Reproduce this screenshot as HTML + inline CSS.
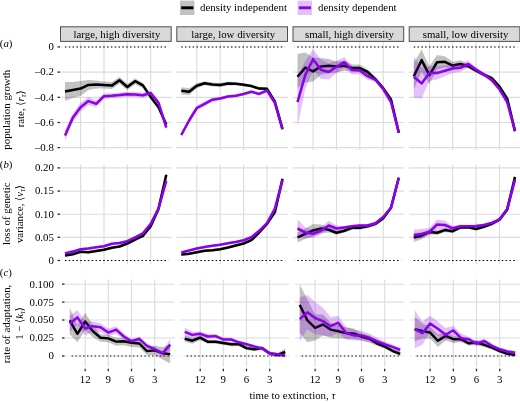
<!DOCTYPE html>
<html><head><meta charset="utf-8"><title>figure</title>
<style>
html,body{margin:0;padding:0;background:#fff}
svg{display:block}
svg text{font-family:"Liberation Serif","DejaVu Serif",serif;font-size:10.85px;fill:#000}
</style></head><body>
<svg width="520" height="403" viewBox="0 0 520 403">
<rect width="520" height="403" fill="#fff"/>
<g><line x1="80.6" x2="80.6" y1="42.2" y2="150" stroke="#dcdcdc" stroke-width="1.15"/><line x1="104" x2="104" y1="42.2" y2="150" stroke="#dcdcdc" stroke-width="1.15"/><line x1="127.3" x2="127.3" y1="42.2" y2="150" stroke="#dcdcdc" stroke-width="1.15"/><line x1="150.7" x2="150.7" y1="42.2" y2="150" stroke="#dcdcdc" stroke-width="1.15"/><line x1="60.2" x2="171.5" y1="72.1" y2="72.1" stroke="#dcdcdc" stroke-width="1.15"/><line x1="60.2" x2="171.5" y1="97.3" y2="97.3" stroke="#dcdcdc" stroke-width="1.15"/><line x1="60.2" x2="171.5" y1="122.5" y2="122.5" stroke="#dcdcdc" stroke-width="1.15"/><line x1="60.2" x2="171.5" y1="147.6" y2="147.6" stroke="#dcdcdc" stroke-width="1.15"/><polygon points="65,82.1 72.8,82 80.6,81.1 88.4,79.9 96.2,80.5 104,81.4 111.8,82.1 119.5,76.8 127.3,84 135.1,78.2 142.9,82.9 150.7,94.9 158.5,105.8 166.3,123.1 166.3,126.1 158.5,108.8 150.7,98.9 142.9,87.9 135.1,84.2 127.3,90 119.5,83.8 111.8,89.1 104,88.4 96.2,88.5 88.4,89.9 80.6,96.1 72.8,98 65,101.1" fill="#000" fill-opacity="0.24"/><polyline points="65,91.6 72.8,90 80.6,88.6 88.4,84.9 96.2,84.5 104,84.9 111.8,85.6 119.5,80.3 127.3,87 135.1,81.2 142.9,85.4 150.7,96.9 158.5,107.3 166.3,124.6" fill="none" stroke="#000" stroke-width="2.55" stroke-linejoin="round" stroke-linecap="butt"/><polygon points="65,130.5 72.8,113.2 80.6,102.8 88.4,97.1 96.2,100.3 104,93.5 111.8,93.3 119.5,92.6 127.3,91.7 135.1,92.1 142.9,92.8 150.7,90.5 158.5,100.2 166.3,124.6 166.3,130.6 158.5,105.2 150.7,95.5 142.9,97.8 135.1,97.1 127.3,96.7 119.5,97.6 111.8,98.3 104,98.9 96.2,107.3 88.4,105.1 80.6,111.8 72.8,122.2 65,140.5" fill="#8a02e6" fill-opacity="0.24"/><polyline points="65,135.5 72.8,117.7 80.6,107.3 88.4,101.1 96.2,103.8 104,96.2 111.8,95.8 119.5,95.1 127.3,94.2 135.1,94.6 142.9,95.3 150.7,93 158.5,102.7 166.3,127.6" fill="none" stroke="#8a02e6" stroke-width="2.55" stroke-linejoin="round" stroke-linecap="butt"/><line x1="61" x2="171.5" y1="47" y2="47" stroke="#000" stroke-opacity="0.12" stroke-width="1.2" stroke-dasharray="1.5 2.33"/><line x1="64.9" x2="167.5" y1="47" y2="47" stroke="#000" stroke-width="1.2" stroke-dasharray="1.5 2.33"/></g>
<g><line x1="196.8" x2="196.8" y1="42.2" y2="150" stroke="#dcdcdc" stroke-width="1.15"/><line x1="220.2" x2="220.2" y1="42.2" y2="150" stroke="#dcdcdc" stroke-width="1.15"/><line x1="243.6" x2="243.6" y1="42.2" y2="150" stroke="#dcdcdc" stroke-width="1.15"/><line x1="267" x2="267" y1="42.2" y2="150" stroke="#dcdcdc" stroke-width="1.15"/><line x1="176.4" x2="287.8" y1="72.1" y2="72.1" stroke="#dcdcdc" stroke-width="1.15"/><line x1="176.4" x2="287.8" y1="97.3" y2="97.3" stroke="#dcdcdc" stroke-width="1.15"/><line x1="176.4" x2="287.8" y1="122.5" y2="122.5" stroke="#dcdcdc" stroke-width="1.15"/><line x1="176.4" x2="287.8" y1="147.6" y2="147.6" stroke="#dcdcdc" stroke-width="1.15"/><polygon points="181.3,87.2 189.1,88.3 196.8,83.3 204.6,81.3 212.4,82.5 220.2,82.9 228,81.5 235.8,82.3 243.6,83.2 251.4,84.6 259.2,87.1 267,87.3 274.8,100 282.5,127.7 282.5,130.7 274.8,103 267,90.3 259.2,90.1 251.4,87.6 243.6,86.2 235.8,85.3 228,85.5 220.2,86.9 212.4,86.5 204.6,85.3 196.8,88.3 189.1,95.3 181.3,94.2" fill="#000" fill-opacity="0.24"/><polyline points="181.3,90.7 189.1,91.8 196.8,85.8 204.6,83.3 212.4,84.5 220.2,84.9 228,83.5 235.8,83.8 243.6,84.7 251.4,86.1 259.2,88.6 267,88.8 274.8,101.5 282.5,129.2" fill="none" stroke="#000" stroke-width="2.55" stroke-linejoin="round" stroke-linecap="butt"/><polygon points="181.3,132.5 189.1,118 196.8,105.5 204.6,101.3 212.4,97.7 220.2,97 228,95 235.8,94.3 243.6,92.4 251.4,90.3 259.2,92.4 267,89 274.8,101.2 282.5,127.7 282.5,130.7 274.8,104.2 267,92 259.2,95.4 251.4,93.3 243.6,95.4 235.8,97.3 228,98 220.2,100 212.4,101.7 204.6,106.3 196.8,110.5 189.1,123 181.3,137.5" fill="#8a02e6" fill-opacity="0.24"/><polyline points="181.3,135 189.1,120.5 196.8,108 204.6,103.8 212.4,99.7 220.2,98.5 228,96.5 235.8,95.8 243.6,93.9 251.4,91.8 259.2,93.9 267,90.5 274.8,102.7 282.5,129.2" fill="none" stroke="#8a02e6" stroke-width="2.55" stroke-linejoin="round" stroke-linecap="butt"/><line x1="177.2" x2="287.8" y1="47" y2="47" stroke="#000" stroke-opacity="0.12" stroke-width="1.2" stroke-dasharray="1.5 2.33"/><line x1="181.2" x2="283.7" y1="47" y2="47" stroke="#000" stroke-width="1.2" stroke-dasharray="1.5 2.33"/></g>
<g><line x1="313.1" x2="313.1" y1="42.2" y2="150" stroke="#dcdcdc" stroke-width="1.15"/><line x1="336.5" x2="336.5" y1="42.2" y2="150" stroke="#dcdcdc" stroke-width="1.15"/><line x1="359.8" x2="359.8" y1="42.2" y2="150" stroke="#dcdcdc" stroke-width="1.15"/><line x1="383.2" x2="383.2" y1="42.2" y2="150" stroke="#dcdcdc" stroke-width="1.15"/><line x1="292.7" x2="404" y1="72.1" y2="72.1" stroke="#dcdcdc" stroke-width="1.15"/><line x1="292.7" x2="404" y1="97.3" y2="97.3" stroke="#dcdcdc" stroke-width="1.15"/><line x1="292.7" x2="404" y1="122.5" y2="122.5" stroke="#dcdcdc" stroke-width="1.15"/><line x1="292.7" x2="404" y1="147.6" y2="147.6" stroke="#dcdcdc" stroke-width="1.15"/><polygon points="297.5,54.1 305.3,52.6 313.1,57.5 320.9,58 328.7,58.9 336.5,61.4 344.3,60.8 352.1,64.4 359.8,64.6 367.6,69.5 375.4,77.2 383.2,86.7 391,98 398.8,131.2 398.8,134.2 391,101 383.2,89.7 375.4,81.2 367.6,74.5 359.8,71.6 352.1,71.4 344.3,70.8 336.5,72.6 328.7,73.2 320.9,74.8 313.1,81.4 305.3,82.6 297.5,88" fill="#000" fill-opacity="0.24"/><polyline points="297.5,76.8 305.3,67.6 313.1,71.4 320.9,66.4 328.7,65.8 336.5,66.6 344.3,65.8 352.1,67.9 359.8,68.1 367.6,72 375.4,79.2 383.2,88.2 391,99.5 398.8,132.7" fill="none" stroke="#000" stroke-width="2.55" stroke-linejoin="round" stroke-linecap="butt"/><polygon points="297.5,77.3 305.3,60.8 313.1,49.2 320.9,59.5 328.7,63.2 336.5,60.8 344.3,57 352.1,66.4 359.8,66.9 367.6,72.7 375.4,77.8 383.2,87.6 391,100.5 398.8,131.2 398.8,134.2 391,103.5 383.2,90.6 375.4,81.8 367.6,79.7 359.8,73.9 352.1,74.5 344.3,67.6 336.5,73.2 328.7,79.5 320.9,78.9 313.1,70 305.3,89 297.5,127" fill="#8a02e6" fill-opacity="0.24"/><polyline points="297.5,102.2 305.3,74.8 313.1,59.2 320.9,69.8 328.7,72 336.5,66.8 344.3,62.2 352.1,70.1 359.8,70.4 367.6,76.2 375.4,79.8 383.2,89.1 391,102 398.8,132.7" fill="none" stroke="#8a02e6" stroke-width="2.55" stroke-linejoin="round" stroke-linecap="butt"/><line x1="293.5" x2="404" y1="47" y2="47" stroke="#000" stroke-opacity="0.12" stroke-width="1.2" stroke-dasharray="1.5 2.33"/><line x1="297.4" x2="400" y1="47" y2="47" stroke="#000" stroke-width="1.2" stroke-dasharray="1.5 2.33"/></g>
<g><line x1="429.4" x2="429.4" y1="42.2" y2="150" stroke="#dcdcdc" stroke-width="1.15"/><line x1="452.7" x2="452.7" y1="42.2" y2="150" stroke="#dcdcdc" stroke-width="1.15"/><line x1="476.1" x2="476.1" y1="42.2" y2="150" stroke="#dcdcdc" stroke-width="1.15"/><line x1="499.5" x2="499.5" y1="42.2" y2="150" stroke="#dcdcdc" stroke-width="1.15"/><line x1="408.9" x2="520.2" y1="72.1" y2="72.1" stroke="#dcdcdc" stroke-width="1.15"/><line x1="408.9" x2="520.2" y1="97.3" y2="97.3" stroke="#dcdcdc" stroke-width="1.15"/><line x1="408.9" x2="520.2" y1="122.5" y2="122.5" stroke="#dcdcdc" stroke-width="1.15"/><line x1="408.9" x2="520.2" y1="147.6" y2="147.6" stroke="#dcdcdc" stroke-width="1.15"/><polygon points="413.8,62.9 421.6,49.5 429.4,66.2 437.1,55.1 444.9,56.2 452.7,61.8 460.5,60.2 468.3,64.2 476.1,68.7 483.9,72.7 491.7,76.1 499.5,84.6 507.2,96.6 515,129.1 515,133.1 507.2,100.6 499.5,88.6 491.7,80.1 483.9,76.7 476.1,72.7 468.3,68.2 460.5,67.4 452.7,69.1 444.9,67.4 437.1,69.6 429.4,84.1 421.6,71.8 413.8,89.7" fill="#000" fill-opacity="0.24"/><polyline points="413.8,76.3 421.6,60.2 429.4,75.2 437.1,62.2 444.9,61.8 452.7,65.6 460.5,64 468.3,66.2 476.1,70.7 483.9,74.7 491.7,78.1 499.5,86.6 507.2,98.6 515,131.1" fill="none" stroke="#000" stroke-width="2.55" stroke-linejoin="round" stroke-linecap="butt"/><polygon points="413.8,56.2 421.6,67.4 429.4,66.2 437.1,66.2 444.9,65.1 452.7,64 460.5,64 468.3,60.6 476.1,67.6 483.9,72.5 491.7,78.1 499.5,87.3 507.2,100.2 515,129.1 515,133.1 507.2,104.2 499.5,91.3 491.7,82.1 483.9,76.5 476.1,71.6 468.3,67.4 460.5,71.8 452.7,72.9 444.9,76.3 437.1,79.6 429.4,80.8 421.6,98.6 413.8,97.5" fill="#8a02e6" fill-opacity="0.24"/><polyline points="413.8,76.7 421.6,83.4 429.4,72.9 437.1,72.9 444.9,70.7 452.7,68.5 460.5,67.8 468.3,64 476.1,69.6 483.9,74.5 491.7,80.1 499.5,89.3 507.2,102.2 515,131.1" fill="none" stroke="#8a02e6" stroke-width="2.55" stroke-linejoin="round" stroke-linecap="butt"/><line x1="409.8" x2="520.2" y1="47" y2="47" stroke="#000" stroke-opacity="0.12" stroke-width="1.2" stroke-dasharray="1.5 2.33"/><line x1="413.7" x2="516.2" y1="47" y2="47" stroke="#000" stroke-width="1.2" stroke-dasharray="1.5 2.33"/></g>
<line x1="57.5" x2="60" y1="46.9" y2="46.9" stroke="#222" stroke-width="1.25"/>
<text x="53.9" y="50.2" text-anchor="end">0</text>
<line x1="57.5" x2="60" y1="72.1" y2="72.1" stroke="#222" stroke-width="1.25"/>
<text x="53.9" y="75.4" text-anchor="end">–0.2</text>
<line x1="57.5" x2="60" y1="97.3" y2="97.3" stroke="#222" stroke-width="1.25"/>
<text x="53.9" y="100.6" text-anchor="end">–0.4</text>
<line x1="57.5" x2="60" y1="122.5" y2="122.5" stroke="#222" stroke-width="1.25"/>
<text x="53.9" y="125.8" text-anchor="end">–0.6</text>
<line x1="57.5" x2="60" y1="147.6" y2="147.6" stroke="#222" stroke-width="1.25"/>
<text x="53.9" y="150.9" text-anchor="end">–0.8</text>
<g><line x1="80.6" x2="80.6" y1="164.4" y2="264.4" stroke="#dcdcdc" stroke-width="1.15"/><line x1="104" x2="104" y1="164.4" y2="264.4" stroke="#dcdcdc" stroke-width="1.15"/><line x1="127.3" x2="127.3" y1="164.4" y2="264.4" stroke="#dcdcdc" stroke-width="1.15"/><line x1="150.7" x2="150.7" y1="164.4" y2="264.4" stroke="#dcdcdc" stroke-width="1.15"/><line x1="60.2" x2="171.5" y1="167.9" y2="167.9" stroke="#dcdcdc" stroke-width="1.15"/><line x1="60.2" x2="171.5" y1="191.1" y2="191.1" stroke="#dcdcdc" stroke-width="1.15"/><line x1="60.2" x2="171.5" y1="214.2" y2="214.2" stroke="#dcdcdc" stroke-width="1.15"/><line x1="60.2" x2="171.5" y1="237.3" y2="237.3" stroke="#dcdcdc" stroke-width="1.15"/><polygon points="65,254.2 72.8,252.9 80.6,250.5 88.4,251 96.2,249.6 104,248.5 111.8,246.4 119.5,245.2 127.3,242.2 135.1,238.3 142.9,234.6 150.7,224.9 158.5,207.6 166.3,173.5 166.3,176.1 158.5,210.2 150.7,227.5 142.9,237.2 135.1,240.9 127.3,244.8 119.5,247.8 111.8,249 104,251.1 96.2,252.2 88.4,253.6 80.6,253.1 72.8,255.5 65,256.8" fill="#000" fill-opacity="0.24"/><polyline points="65,255.5 72.8,254.2 80.6,251.8 88.4,252.3 96.2,250.9 104,249.8 111.8,247.7 119.5,246.5 127.3,243.5 135.1,239.6 142.9,235.9 150.7,226.2 158.5,208.9 166.3,174.8" fill="none" stroke="#000" stroke-width="2.55" stroke-linejoin="round" stroke-linecap="butt"/><polygon points="65,252.2 72.8,250.3 80.6,248 88.4,247.1 96.2,245.9 104,245 111.8,242.5 119.5,241.8 127.3,239.9 135.1,236 142.9,232.1 150.7,222.6 158.5,207.2 166.3,179.5 166.3,182.1 158.5,209.8 150.7,225.2 142.9,234.7 135.1,238.6 127.3,242.5 119.5,244.4 111.8,245.1 104,247.6 96.2,248.5 88.4,249.7 80.6,250.6 72.8,252.9 65,254.8" fill="#8a02e6" fill-opacity="0.24"/><polyline points="65,253.5 72.8,251.6 80.6,249.3 88.4,248.4 96.2,247.2 104,246.3 111.8,243.8 119.5,243.1 127.3,241.2 135.1,237.3 142.9,233.4 150.7,223.9 158.5,208.5 166.3,180.8" fill="none" stroke="#8a02e6" stroke-width="2.55" stroke-linejoin="round" stroke-linecap="butt"/><line x1="61" x2="171.5" y1="260.5" y2="260.5" stroke="#000" stroke-opacity="0.12" stroke-width="1.2" stroke-dasharray="1.5 2.33"/><line x1="64.9" x2="167.5" y1="260.5" y2="260.5" stroke="#000" stroke-width="1.2" stroke-dasharray="1.5 2.33"/></g>
<g><line x1="196.8" x2="196.8" y1="164.4" y2="264.4" stroke="#dcdcdc" stroke-width="1.15"/><line x1="220.2" x2="220.2" y1="164.4" y2="264.4" stroke="#dcdcdc" stroke-width="1.15"/><line x1="243.6" x2="243.6" y1="164.4" y2="264.4" stroke="#dcdcdc" stroke-width="1.15"/><line x1="267" x2="267" y1="164.4" y2="264.4" stroke="#dcdcdc" stroke-width="1.15"/><line x1="176.4" x2="287.8" y1="167.9" y2="167.9" stroke="#dcdcdc" stroke-width="1.15"/><line x1="176.4" x2="287.8" y1="191.1" y2="191.1" stroke="#dcdcdc" stroke-width="1.15"/><line x1="176.4" x2="287.8" y1="214.2" y2="214.2" stroke="#dcdcdc" stroke-width="1.15"/><line x1="176.4" x2="287.8" y1="237.3" y2="237.3" stroke="#dcdcdc" stroke-width="1.15"/><polygon points="181.3,253.3 189.1,252.4 196.8,251 204.6,249.4 212.4,248.9 220.2,248 228,246.2 235.8,244.1 243.6,242.2 251.4,238.8 259.2,231.2 267,222.6 274.8,211.1 282.5,177.6 282.5,180.2 274.8,213.7 267,225.2 259.2,233.8 251.4,241.4 243.6,244.8 235.8,246.7 228,248.8 220.2,250.6 212.4,251.5 204.6,252 196.8,253.6 189.1,255 181.3,255.9" fill="#000" fill-opacity="0.24"/><polyline points="181.3,254.6 189.1,253.7 196.8,252.3 204.6,250.7 212.4,250.2 220.2,249.3 228,247.5 235.8,245.4 243.6,243.5 251.4,240.1 259.2,232.5 267,223.9 274.8,212.4 282.5,178.9" fill="none" stroke="#000" stroke-width="2.55" stroke-linejoin="round" stroke-linecap="butt"/><polygon points="181.3,251.2 189.1,249.2 196.8,247.3 204.6,245.7 212.4,244.5 220.2,243.4 228,242 235.8,240.6 243.6,239 251.4,236 259.2,229.5 267,221.9 274.8,207.6 282.5,178.8 282.5,181.4 274.8,210.2 267,224.5 259.2,232.1 251.4,238.6 243.6,241.6 235.8,243.2 228,244.6 220.2,246 212.4,247.1 204.6,248.3 196.8,249.9 189.1,251.8 181.3,253.8" fill="#8a02e6" fill-opacity="0.24"/><polyline points="181.3,252.5 189.1,250.5 196.8,248.6 204.6,247 212.4,245.8 220.2,244.7 228,243.3 235.8,241.9 243.6,240.3 251.4,237.3 259.2,230.8 267,223.2 274.8,208.9 282.5,180.1" fill="none" stroke="#8a02e6" stroke-width="2.55" stroke-linejoin="round" stroke-linecap="butt"/><line x1="177.2" x2="287.8" y1="260.5" y2="260.5" stroke="#000" stroke-opacity="0.12" stroke-width="1.2" stroke-dasharray="1.5 2.33"/><line x1="181.2" x2="283.7" y1="260.5" y2="260.5" stroke="#000" stroke-width="1.2" stroke-dasharray="1.5 2.33"/></g>
<g><line x1="313.1" x2="313.1" y1="164.4" y2="264.4" stroke="#dcdcdc" stroke-width="1.15"/><line x1="336.5" x2="336.5" y1="164.4" y2="264.4" stroke="#dcdcdc" stroke-width="1.15"/><line x1="359.8" x2="359.8" y1="164.4" y2="264.4" stroke="#dcdcdc" stroke-width="1.15"/><line x1="383.2" x2="383.2" y1="164.4" y2="264.4" stroke="#dcdcdc" stroke-width="1.15"/><line x1="292.7" x2="404" y1="167.9" y2="167.9" stroke="#dcdcdc" stroke-width="1.15"/><line x1="292.7" x2="404" y1="191.1" y2="191.1" stroke="#dcdcdc" stroke-width="1.15"/><line x1="292.7" x2="404" y1="214.2" y2="214.2" stroke="#dcdcdc" stroke-width="1.15"/><line x1="292.7" x2="404" y1="237.3" y2="237.3" stroke="#dcdcdc" stroke-width="1.15"/><polygon points="297.5,232.5 305.3,228.5 313.1,223.9 320.9,224.6 328.7,226.9 336.5,230.7 344.3,228.8 352.1,225.8 359.8,225.8 367.6,224.2 375.4,221.9 383.2,216.2 391,205.8 398.8,175.8 398.8,179.8 391,209.8 383.2,220.2 375.4,225.9 367.6,228.2 359.8,229.8 352.1,229.8 344.3,232.8 336.5,234.7 328.7,232.5 320.9,233.2 313.1,236.6 305.3,238.9 297.5,242.4" fill="#000" fill-opacity="0.24"/><polyline points="297.5,237.3 305.3,233.8 313.1,230.4 320.9,228.5 328.7,229.7 336.5,232.7 344.3,230.8 352.1,227.8 359.8,227.8 367.6,226.2 375.4,223.9 383.2,218.2 391,207.8 398.8,177.8" fill="none" stroke="#000" stroke-width="2.55" stroke-linejoin="round" stroke-linecap="butt"/><polygon points="297.5,219.3 305.3,227.4 313.1,229.7 320.9,226.9 328.7,220.9 336.5,225.5 344.3,225.9 352.1,224.7 359.8,224 367.6,224 375.4,221.7 383.2,215.5 391,206.3 398.8,176.3 398.8,179.3 391,209.3 383.2,218.5 375.4,224.7 367.6,227 359.8,227 352.1,227.7 344.3,228.9 336.5,231.5 328.7,229.7 320.9,234.3 313.1,237.8 305.3,237.8 297.5,237.8" fill="#8a02e6" fill-opacity="0.24"/><polyline points="297.5,228.5 305.3,232.5 313.1,233.8 320.9,230.8 328.7,225.5 336.5,228.5 344.3,227.4 352.1,226.2 359.8,225.5 367.6,225.5 375.4,223.2 383.2,217 391,207.8 398.8,177.8" fill="none" stroke="#8a02e6" stroke-width="2.55" stroke-linejoin="round" stroke-linecap="butt"/><line x1="293.5" x2="404" y1="260.5" y2="260.5" stroke="#000" stroke-opacity="0.12" stroke-width="1.2" stroke-dasharray="1.5 2.33"/><line x1="297.4" x2="400" y1="260.5" y2="260.5" stroke="#000" stroke-width="1.2" stroke-dasharray="1.5 2.33"/></g>
<g><line x1="429.4" x2="429.4" y1="164.4" y2="264.4" stroke="#dcdcdc" stroke-width="1.15"/><line x1="452.7" x2="452.7" y1="164.4" y2="264.4" stroke="#dcdcdc" stroke-width="1.15"/><line x1="476.1" x2="476.1" y1="164.4" y2="264.4" stroke="#dcdcdc" stroke-width="1.15"/><line x1="499.5" x2="499.5" y1="164.4" y2="264.4" stroke="#dcdcdc" stroke-width="1.15"/><line x1="408.9" x2="520.2" y1="167.9" y2="167.9" stroke="#dcdcdc" stroke-width="1.15"/><line x1="408.9" x2="520.2" y1="191.1" y2="191.1" stroke="#dcdcdc" stroke-width="1.15"/><line x1="408.9" x2="520.2" y1="214.2" y2="214.2" stroke="#dcdcdc" stroke-width="1.15"/><line x1="408.9" x2="520.2" y1="237.3" y2="237.3" stroke="#dcdcdc" stroke-width="1.15"/><polygon points="413.8,233 421.6,232.2 429.4,229.6 437.1,230.5 444.9,228.1 452.7,229.2 460.5,225.9 468.3,225.7 476.1,227.5 483.9,225.3 491.7,222.4 499.5,218.1 507.2,208.1 515,175.4 515,178.4 507.2,211.1 499.5,221.1 491.7,225.4 483.9,228.3 476.1,230.5 468.3,228.7 460.5,228.9 452.7,233.2 444.9,232.1 437.1,235.1 429.4,234.2 421.6,239.2 413.8,242" fill="#000" fill-opacity="0.24"/><polyline points="413.8,237.5 421.6,235.7 429.4,231.9 437.1,232.8 444.9,230.1 452.7,231.2 460.5,227.4 468.3,227.2 476.1,229 483.9,226.8 491.7,223.9 499.5,219.6 507.2,209.6 515,176.9" fill="none" stroke="#000" stroke-width="2.55" stroke-linejoin="round" stroke-linecap="butt"/><polygon points="413.8,229.7 421.6,229 429.4,227.9 437.1,219.4 444.9,220.7 452.7,226.1 460.5,224.8 468.3,224.8 476.1,224.6 483.9,223.5 491.7,221.5 499.5,217.9 507.2,207.4 515,178.3 515,181.3 507.2,210.4 499.5,220.9 491.7,224.5 483.9,226.5 476.1,227.6 468.3,227.8 460.5,227.8 452.7,230.6 444.9,229 437.1,229.7 429.4,235.7 421.6,237.9 413.8,239.1" fill="#8a02e6" fill-opacity="0.24"/><polyline points="413.8,235.3 421.6,234.1 429.4,231.9 437.1,224.5 444.9,225 452.7,228.3 460.5,226.3 468.3,226.3 476.1,226.1 483.9,225 491.7,223 499.5,219.4 507.2,208.9 515,179.8" fill="none" stroke="#8a02e6" stroke-width="2.55" stroke-linejoin="round" stroke-linecap="butt"/><line x1="409.8" x2="520.2" y1="260.5" y2="260.5" stroke="#000" stroke-opacity="0.12" stroke-width="1.2" stroke-dasharray="1.5 2.33"/><line x1="413.7" x2="516.2" y1="260.5" y2="260.5" stroke="#000" stroke-width="1.2" stroke-dasharray="1.5 2.33"/></g>
<line x1="57.5" x2="60" y1="167.9" y2="167.9" stroke="#222" stroke-width="1.25"/>
<text x="53.9" y="171.2" text-anchor="end">0.20</text>
<line x1="57.5" x2="60" y1="191.1" y2="191.1" stroke="#222" stroke-width="1.25"/>
<text x="53.9" y="194.4" text-anchor="end">0.15</text>
<line x1="57.5" x2="60" y1="214.2" y2="214.2" stroke="#222" stroke-width="1.25"/>
<text x="53.9" y="217.5" text-anchor="end">0.10</text>
<line x1="57.5" x2="60" y1="237.3" y2="237.3" stroke="#222" stroke-width="1.25"/>
<text x="53.9" y="240.7" text-anchor="end">0.05</text>
<line x1="57.5" x2="60" y1="260.5" y2="260.5" stroke="#222" stroke-width="1.25"/>
<text x="53.9" y="263.9" text-anchor="end">0</text>
<g><line x1="85.2" x2="85.2" y1="279.4" y2="366.8" stroke="#dcdcdc" stroke-width="1.15"/><line x1="108.3" x2="108.3" y1="279.4" y2="366.8" stroke="#dcdcdc" stroke-width="1.15"/><line x1="131.5" x2="131.5" y1="279.4" y2="366.8" stroke="#dcdcdc" stroke-width="1.15"/><line x1="154.7" x2="154.7" y1="279.4" y2="366.8" stroke="#dcdcdc" stroke-width="1.15"/><line x1="64.8" x2="174.4" y1="284.2" y2="284.2" stroke="#dcdcdc" stroke-width="1.15"/><line x1="64.8" x2="174.4" y1="302.1" y2="302.1" stroke="#dcdcdc" stroke-width="1.15"/><line x1="64.8" x2="174.4" y1="320" y2="320" stroke="#dcdcdc" stroke-width="1.15"/><line x1="64.8" x2="174.4" y1="338" y2="338" stroke="#dcdcdc" stroke-width="1.15"/><polygon points="69.7,307.7 77.4,325 85.2,312.8 92.9,325 100.6,334.2 108.3,334.9 116.1,337.7 123.8,337.7 131.5,339.5 139.3,340 147,346.9 154.7,345.8 162.5,346.9 170.2,344.6 170.2,363.5 162.5,359.6 154.7,355 147,355 139.3,347.4 131.5,346.9 123.8,345.3 116.1,345.8 108.3,342.3 100.6,341.8 92.9,337.2 85.2,330.3 77.4,342.3 69.7,334.2" fill="#000" fill-opacity="0.24"/><polyline points="69.7,320.4 77.4,333.8 85.2,321.5 92.9,331.2 100.6,337.7 108.3,338.4 116.1,341.6 123.8,341.2 131.5,342.8 139.3,343.5 147,351.1 154.7,350.4 162.5,353.2 170.2,354.1" fill="none" stroke="#000" stroke-width="2.45" stroke-linejoin="round" stroke-linecap="butt"/><polygon points="69.7,315.8 77.4,310 85.2,321.5 92.9,321.5 100.6,323.4 108.3,328.5 116.1,326.2 123.8,333.5 131.5,338.8 139.3,336.5 147,343.5 154.7,346.9 162.5,351.1 170.2,338.8 170.2,350.4 162.5,355.7 154.7,351.5 147,348.1 139.3,341.2 131.5,343.5 123.8,339.5 116.1,333.5 108.3,336.5 100.6,331.9 92.9,331.2 85.2,335.4 77.4,325 69.7,331.9" fill="#8a02e6" fill-opacity="0.24"/><polyline points="69.7,323.8 77.4,317.4 85.2,328.5 92.9,326.2 100.6,327.3 108.3,332.6 116.1,329.6 123.8,336.5 131.5,341.2 139.3,338.8 147,345.8 154.7,349.2 162.5,353.4 170.2,344.6" fill="none" stroke="#8a02e6" stroke-width="2.45" stroke-linejoin="round" stroke-linecap="butt"/><line x1="65.5" x2="174.4" y1="356" y2="356" stroke="#000" stroke-opacity="0.12" stroke-width="1.2" stroke-dasharray="1.5 2.33"/><line x1="71.6" x2="171.4" y1="356" y2="356" stroke="#000" stroke-width="1.2" stroke-dasharray="1.5 2.33"/></g>
<g><line x1="200.2" x2="200.2" y1="279.4" y2="366.8" stroke="#dcdcdc" stroke-width="1.15"/><line x1="223.3" x2="223.3" y1="279.4" y2="366.8" stroke="#dcdcdc" stroke-width="1.15"/><line x1="246.5" x2="246.5" y1="279.4" y2="366.8" stroke="#dcdcdc" stroke-width="1.15"/><line x1="269.7" x2="269.7" y1="279.4" y2="366.8" stroke="#dcdcdc" stroke-width="1.15"/><line x1="179.8" x2="289.4" y1="284.2" y2="284.2" stroke="#dcdcdc" stroke-width="1.15"/><line x1="179.8" x2="289.4" y1="302.1" y2="302.1" stroke="#dcdcdc" stroke-width="1.15"/><line x1="179.8" x2="289.4" y1="320" y2="320" stroke="#dcdcdc" stroke-width="1.15"/><line x1="179.8" x2="289.4" y1="338" y2="338" stroke="#dcdcdc" stroke-width="1.15"/><polygon points="184.7,335.8 192.4,337.7 200.2,335.2 207.9,339.8 215.6,339.8 223.3,341 231.1,342.2 238.8,342.2 246.5,346.1 254.3,347.2 262,346.1 269.7,351.4 277.5,353 285.2,348.5 285.2,355.5 277.5,357 269.7,355.4 262,350.1 254.3,351.2 246.5,350.1 238.8,346.2 231.1,346.2 223.3,345 215.6,343.8 207.9,343.8 200.2,340.2 192.4,343.7 184.7,341.8" fill="#000" fill-opacity="0.24"/><polyline points="184.7,338.8 192.4,340.7 200.2,337.7 207.9,341.8 215.6,341.8 223.3,343 231.1,344.2 238.8,344.2 246.5,348.1 254.3,349.2 262,348.1 269.7,353.4 277.5,355 285.2,352" fill="none" stroke="#000" stroke-width="2.45" stroke-linejoin="round" stroke-linecap="butt"/><polygon points="184.7,327.4 192.4,331.9 200.2,331.3 207.9,334 215.6,334.1 223.3,337.5 231.1,337.5 238.8,340.8 246.5,342.7 254.3,345 262,347 269.7,351.7 277.5,352.8 285.2,354.2 285.2,357.2 277.5,355.8 269.7,354.7 262,350 254.3,348 246.5,345.7 238.8,343.8 231.1,341.5 223.3,341.5 215.6,338.1 207.9,339 200.2,336.3 192.4,337.9 184.7,336.4" fill="#8a02e6" fill-opacity="0.24"/><polyline points="184.7,331.9 192.4,334.9 200.2,333.8 207.9,336.5 215.6,336.1 223.3,339.5 231.1,339.5 238.8,342.3 246.5,344.2 254.3,346.5 262,348.5 269.7,353.2 277.5,354.3 285.2,355.7" fill="none" stroke="#8a02e6" stroke-width="2.45" stroke-linejoin="round" stroke-linecap="butt"/><line x1="180.6" x2="289.4" y1="356" y2="356" stroke="#000" stroke-opacity="0.12" stroke-width="1.2" stroke-dasharray="1.5 2.33"/><line x1="186.6" x2="286.4" y1="356" y2="356" stroke="#000" stroke-width="1.2" stroke-dasharray="1.5 2.33"/></g>
<g><line x1="315.1" x2="315.1" y1="279.4" y2="366.8" stroke="#dcdcdc" stroke-width="1.15"/><line x1="338.3" x2="338.3" y1="279.4" y2="366.8" stroke="#dcdcdc" stroke-width="1.15"/><line x1="361.5" x2="361.5" y1="279.4" y2="366.8" stroke="#dcdcdc" stroke-width="1.15"/><line x1="384.7" x2="384.7" y1="279.4" y2="366.8" stroke="#dcdcdc" stroke-width="1.15"/><line x1="294.8" x2="404.4" y1="284.2" y2="284.2" stroke="#dcdcdc" stroke-width="1.15"/><line x1="294.8" x2="404.4" y1="302.1" y2="302.1" stroke="#dcdcdc" stroke-width="1.15"/><line x1="294.8" x2="404.4" y1="320" y2="320" stroke="#dcdcdc" stroke-width="1.15"/><line x1="294.8" x2="404.4" y1="338" y2="338" stroke="#dcdcdc" stroke-width="1.15"/><polygon points="299.7,284.6 307.4,299.6 315.1,314.6 322.9,314.2 330.6,322.7 338.3,325 346.1,327.3 353.8,328.5 361.5,333.1 369.3,335.4 377,341.2 384.7,344.2 392.4,348.5 400.2,351.5 400.2,356.1 392.4,353.1 384.7,348.8 377,345.8 369.3,342.8 361.5,340.5 353.8,338.8 346.1,338.8 338.3,338.2 330.6,337.7 322.9,335.4 315.1,340.5 307.4,342.3 299.7,333.1" fill="#000" fill-opacity="0.24"/><polyline points="299.7,304.9 307.4,320.4 315.1,327.8 322.9,324.5 330.6,329.6 338.3,331.2 346.1,333.1 353.8,333.5 361.5,336.5 369.3,338.8 377,343.5 384.7,346.5 392.4,350.8 400.2,353.8" fill="none" stroke="#000" stroke-width="2.45" stroke-linejoin="round" stroke-linecap="butt"/><polygon points="299.7,297.3 307.4,295 315.1,301.9 322.9,307.7 330.6,316.9 338.3,315.8 346.1,327.3 353.8,329.6 361.5,330.8 369.3,333.5 377,337.7 384.7,341.7 392.4,344.4 400.2,347.4 400.2,352.4 392.4,349.4 384.7,346.7 377,344.6 369.3,341.8 361.5,340.5 353.8,340.5 346.1,339.5 338.3,333.1 330.6,336.5 322.9,335.4 315.1,334.2 307.4,329.6 299.7,341.2" fill="#8a02e6" fill-opacity="0.24"/><polyline points="299.7,319.2 307.4,312.3 315.1,318.1 322.9,321.1 330.6,326.2 338.3,322.7 346.1,333.1 353.8,335.4 361.5,335.4 369.3,337.7 377,341.2 384.7,344.2 392.4,346.9 400.2,349.9" fill="none" stroke="#8a02e6" stroke-width="2.45" stroke-linejoin="round" stroke-linecap="butt"/><line x1="295.6" x2="404.4" y1="356" y2="356" stroke="#000" stroke-opacity="0.12" stroke-width="1.2" stroke-dasharray="1.5 2.33"/><line x1="301.6" x2="401.4" y1="356" y2="356" stroke="#000" stroke-width="1.2" stroke-dasharray="1.5 2.33"/></g>
<g><line x1="430.1" x2="430.1" y1="279.4" y2="366.8" stroke="#dcdcdc" stroke-width="1.15"/><line x1="453.3" x2="453.3" y1="279.4" y2="366.8" stroke="#dcdcdc" stroke-width="1.15"/><line x1="476.5" x2="476.5" y1="279.4" y2="366.8" stroke="#dcdcdc" stroke-width="1.15"/><line x1="499.7" x2="499.7" y1="279.4" y2="366.8" stroke="#dcdcdc" stroke-width="1.15"/><line x1="409.8" x2="519.5" y1="284.2" y2="284.2" stroke="#dcdcdc" stroke-width="1.15"/><line x1="409.8" x2="519.5" y1="302.1" y2="302.1" stroke="#dcdcdc" stroke-width="1.15"/><line x1="409.8" x2="519.5" y1="320" y2="320" stroke="#dcdcdc" stroke-width="1.15"/><line x1="409.8" x2="519.5" y1="338" y2="338" stroke="#dcdcdc" stroke-width="1.15"/><polygon points="414.7,316.9 422.4,323.6 430.1,326.9 437.9,334.8 445.6,331.9 453.3,335.9 461.1,336.7 468.8,340.8 476.5,340.1 484.3,342.3 492,345.9 499.7,349.3 507.4,352 515.2,353.1 515.2,356.7 507.4,355.6 499.7,352.9 492,349.5 484.3,347.3 476.5,345.1 468.8,345.8 461.1,341.7 453.3,343.3 445.6,340.3 437.9,347.1 430.1,338.6 422.4,338.6 414.7,341.5" fill="#000" fill-opacity="0.24"/><polyline points="414.7,329.2 422.4,331 430.1,332.5 437.9,340.8 445.6,335.9 453.3,339.2 461.1,339.2 468.8,343.3 476.5,342.6 484.3,344.8 492,347.7 499.7,351.1 507.4,353.8 515.2,354.9" fill="none" stroke="#000" stroke-width="2.45" stroke-linejoin="round" stroke-linecap="butt"/><polygon points="414.7,310.2 422.4,321.4 430.1,315.8 437.9,321.4 445.6,328.1 453.3,325.8 461.1,333.6 468.8,336.7 476.5,341.2 484.3,338.5 492,344.1 499.7,347.5 507.4,349.7 515.2,350.8 515.2,354.4 507.4,353.3 499.7,351.1 492,347.7 484.3,343.5 476.5,346.2 468.8,341.7 461.1,342.6 453.3,335.9 445.6,340.3 437.9,335.9 430.1,331.9 422.4,344.8 414.7,348.2" fill="#8a02e6" fill-opacity="0.24"/><polyline points="414.7,329.2 422.4,333.2 430.1,323.6 437.9,328.7 445.6,334.8 453.3,330.3 461.1,338.1 468.8,339.2 476.5,343.7 484.3,341 492,345.9 499.7,349.3 507.4,351.5 515.2,352.6" fill="none" stroke="#8a02e6" stroke-width="2.45" stroke-linejoin="round" stroke-linecap="butt"/><line x1="410.6" x2="519.5" y1="356" y2="356" stroke="#000" stroke-opacity="0.12" stroke-width="1.2" stroke-dasharray="1.5 2.33"/><line x1="416.6" x2="516.4" y1="356" y2="356" stroke="#000" stroke-width="1.2" stroke-dasharray="1.5 2.33"/></g>
<line x1="62" x2="64.5" y1="284.2" y2="284.2" stroke="#222" stroke-width="1.25"/>
<text x="53.9" y="287.6" text-anchor="end">0.100</text>
<line x1="62" x2="64.5" y1="302.1" y2="302.1" stroke="#222" stroke-width="1.25"/>
<text x="53.9" y="305.5" text-anchor="end">0.075</text>
<line x1="62" x2="64.5" y1="320" y2="320" stroke="#222" stroke-width="1.25"/>
<text x="53.9" y="323.4" text-anchor="end">0.050</text>
<line x1="62" x2="64.5" y1="338" y2="338" stroke="#222" stroke-width="1.25"/>
<text x="53.9" y="341.4" text-anchor="end">0.025</text>
<line x1="62" x2="64.5" y1="356" y2="356" stroke="#222" stroke-width="1.25"/>
<text x="53.9" y="359.4" text-anchor="end">0</text>
<rect x="60.5" y="26.8" width="110.7" height="14.6" fill="#d9d9d9" stroke="#4d4d4d" stroke-width="1"/>
<text x="116.9" y="37.6" text-anchor="middle">large, high diversity</text>
<rect x="176.8" y="26.8" width="110.7" height="14.6" fill="#d9d9d9" stroke="#4d4d4d" stroke-width="1"/>
<text x="233.2" y="37.6" text-anchor="middle">large, low diversity</text>
<rect x="293" y="26.8" width="110.7" height="14.6" fill="#d9d9d9" stroke="#4d4d4d" stroke-width="1"/>
<text x="349.4" y="37.6" text-anchor="middle">small, high diversity</text>
<rect x="409.2" y="26.8" width="110.7" height="14.6" fill="#d9d9d9" stroke="#4d4d4d" stroke-width="1"/>
<text x="465.6" y="37.6" text-anchor="middle">small, low diversity</text>
<line x1="85.2" x2="85.2" y1="368.7" y2="371.3" stroke="#222" stroke-width="1.25"/>
<text x="85.2" y="383.2" text-anchor="middle">12</text>
<line x1="108.3" x2="108.3" y1="368.7" y2="371.3" stroke="#222" stroke-width="1.25"/>
<text x="108.3" y="383.2" text-anchor="middle">9</text>
<line x1="131.5" x2="131.5" y1="368.7" y2="371.3" stroke="#222" stroke-width="1.25"/>
<text x="131.5" y="383.2" text-anchor="middle">6</text>
<line x1="154.7" x2="154.7" y1="368.7" y2="371.3" stroke="#222" stroke-width="1.25"/>
<text x="154.7" y="383.2" text-anchor="middle">3</text>
<line x1="200.2" x2="200.2" y1="368.7" y2="371.3" stroke="#222" stroke-width="1.25"/>
<text x="200.2" y="383.2" text-anchor="middle">12</text>
<line x1="223.3" x2="223.3" y1="368.7" y2="371.3" stroke="#222" stroke-width="1.25"/>
<text x="223.3" y="383.2" text-anchor="middle">9</text>
<line x1="246.5" x2="246.5" y1="368.7" y2="371.3" stroke="#222" stroke-width="1.25"/>
<text x="246.5" y="383.2" text-anchor="middle">6</text>
<line x1="269.7" x2="269.7" y1="368.7" y2="371.3" stroke="#222" stroke-width="1.25"/>
<text x="269.7" y="383.2" text-anchor="middle">3</text>
<line x1="315.1" x2="315.1" y1="368.7" y2="371.3" stroke="#222" stroke-width="1.25"/>
<text x="315.1" y="383.2" text-anchor="middle">12</text>
<line x1="338.3" x2="338.3" y1="368.7" y2="371.3" stroke="#222" stroke-width="1.25"/>
<text x="338.3" y="383.2" text-anchor="middle">9</text>
<line x1="361.5" x2="361.5" y1="368.7" y2="371.3" stroke="#222" stroke-width="1.25"/>
<text x="361.5" y="383.2" text-anchor="middle">6</text>
<line x1="384.7" x2="384.7" y1="368.7" y2="371.3" stroke="#222" stroke-width="1.25"/>
<text x="384.7" y="383.2" text-anchor="middle">3</text>
<line x1="430.1" x2="430.1" y1="368.7" y2="371.3" stroke="#222" stroke-width="1.25"/>
<text x="430.1" y="383.2" text-anchor="middle">12</text>
<line x1="453.3" x2="453.3" y1="368.7" y2="371.3" stroke="#222" stroke-width="1.25"/>
<text x="453.3" y="383.2" text-anchor="middle">9</text>
<line x1="476.5" x2="476.5" y1="368.7" y2="371.3" stroke="#222" stroke-width="1.25"/>
<text x="476.5" y="383.2" text-anchor="middle">6</text>
<line x1="499.7" x2="499.7" y1="368.7" y2="371.3" stroke="#222" stroke-width="1.25"/>
<text x="499.7" y="383.2" text-anchor="middle">3</text>
<rect x="180" y="0.6" width="14.4" height="14.4" fill="#000" fill-opacity="0.24"/>
<line x1="181.2" x2="193.4" y1="7.8" y2="7.8" stroke="#000" stroke-width="2.9"/>
<text x="200" y="11.2">density independent</text>
<rect x="297.6" y="0.6" width="14.4" height="14.4" fill="#8a02e6" fill-opacity="0.24"/>
<line x1="298.8" x2="311" y1="7.8" y2="7.8" stroke="#8a02e6" stroke-width="2.9"/>
<text x="318" y="11.2">density dependent</text>
<text x="-0.2" y="47.2">(<tspan font-style="italic">a</tspan>)</text>
<text x="-0.2" y="167.5">(<tspan font-style="italic">b</tspan>)</text>
<text x="-0.2" y="276.3">(<tspan font-style="italic">c</tspan>)</text>
<text transform="translate(9.6,109.8) rotate(-90)" text-anchor="middle">population growth</text>
<text transform="translate(23.7,108.8) rotate(-90)" text-anchor="middle">rate, ⟨<tspan font-style="italic">r</tspan><tspan font-style="italic" font-size="7.5" dy="2.2">τ</tspan><tspan dy="-2.2">⟩</tspan></text>
<text transform="translate(9.6,213.8) rotate(-90)" text-anchor="middle">loss of genetic</text>
<text transform="translate(22.8,214) rotate(-90)" text-anchor="middle">variance, ⟨<tspan font-style="italic">v</tspan><tspan font-style="italic" font-size="7.5" dy="2.2">τ</tspan><tspan dy="-2.2">⟩</tspan></text>
<text transform="translate(9.6,324) rotate(-90)" text-anchor="middle">rate of adaptation,</text>
<text transform="translate(22.7,323.4) rotate(-90)" text-anchor="middle">1 − ⟨<tspan font-style="italic">k</tspan><tspan font-style="italic" font-size="7.5" dy="2.2">τ</tspan><tspan dy="-2.2">⟩</tspan></text>
<text x="249.5" y="399.2" font-size="10.95">time to extinction, <tspan font-style="italic">τ</tspan></text>
</svg>
</body></html>
